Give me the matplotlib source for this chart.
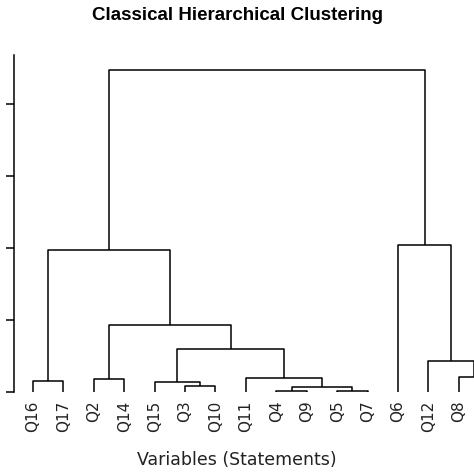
import matplotlib
matplotlib.use("Agg")
import matplotlib.pyplot as plt

# leaf order (last one is cut off by the figure edge in the original)
leaves = ["Q16", "Q17", "Q2", "Q14", "Q15", "Q3", "Q10", "Q11",
          "Q4", "Q9", "Q5", "Q7", "Q6", "Q12", "Q8", "Q1"]

# merges: (left, right, height); ints are leaf indices, "mN" earlier merges
merges = [
    (0, 1, 0.15),          # m0 Q16-Q17
    (2, 3, 0.18),          # m1 Q2-Q14
    (5, 6, 0.08),          # m2 Q3-Q10
    (4, "m2", 0.14),       # m3
    (8, 9, 0.01),          # m4 Q4-Q9
    (10, 11, 0.01),        # m5 Q5-Q7
    ("m4", "m5", 0.07),    # m6
    (7, "m6", 0.20),       # m7
    ("m3", "m7", 0.60),    # m8
    ("m1", "m8", 0.93),    # m9
    ("m0", "m9", 1.97),    # m10
    (14, 15, 0.21),        # m11
    (13, "m11", 0.43),     # m12
    (12, "m12", 2.04),     # m13
    ("m10", "m13", 4.47),  # m14
]

W = 474
fig = plt.figure(figsize=(W / 100, W / 100), dpi=100)
px = lambda v: v / W
ax = fig.add_axes([px(14), 1 - px(392), 1 - px(14), px(392 - 55)])

pos, hgt = {}, {}
for i in range(len(leaves)):
    pos[i], hgt[i] = i, 0.0

for j, (a, b, h) in enumerate(merges):
    xa, xb = pos[a], pos[b]
    ax.plot([xa, xa, xb, xb], [hgt[a], h, h, hgt[b]], color="black", lw=1.1,
            solid_capstyle="butt")
    pos["m%d" % j] = (xa + xb) / 2
    hgt["m%d" % j] = h

ax.set_xlim(-0.625, 14.5)
ax.set_ylim(0, 4.68)
for s in ["top", "right", "bottom"]:
    ax.spines[s].set_visible(False)
ax.spines["left"].set_linewidth(1.1)
ax.set_xticks([])
ax.set_yticks([0, 1, 2, 3, 4])
ax.set_yticklabels([])
ax.tick_params(axis="y", length=6, width=1.1)

# the last leaf label falls outside the picture, so only visible ones are drawn
for i, name in enumerate(leaves[:-1]):
    ax.text(i, -0.12, name, rotation=90, ha="center", va="top", fontsize=11,
            color="#222222", clip_on=False)

fig.text(0.5, 1 - px(15), "Classical Hierarchical Clustering", ha="center",
         va="center", fontsize=13.5, fontweight="bold", family="Liberation Sans")
fig.text(0.5, 1 - px(460), "Variables (Statements)", ha="center", va="center",
         fontsize=12.5, color="#222222")

fig.savefig("out.png", dpi=100)
